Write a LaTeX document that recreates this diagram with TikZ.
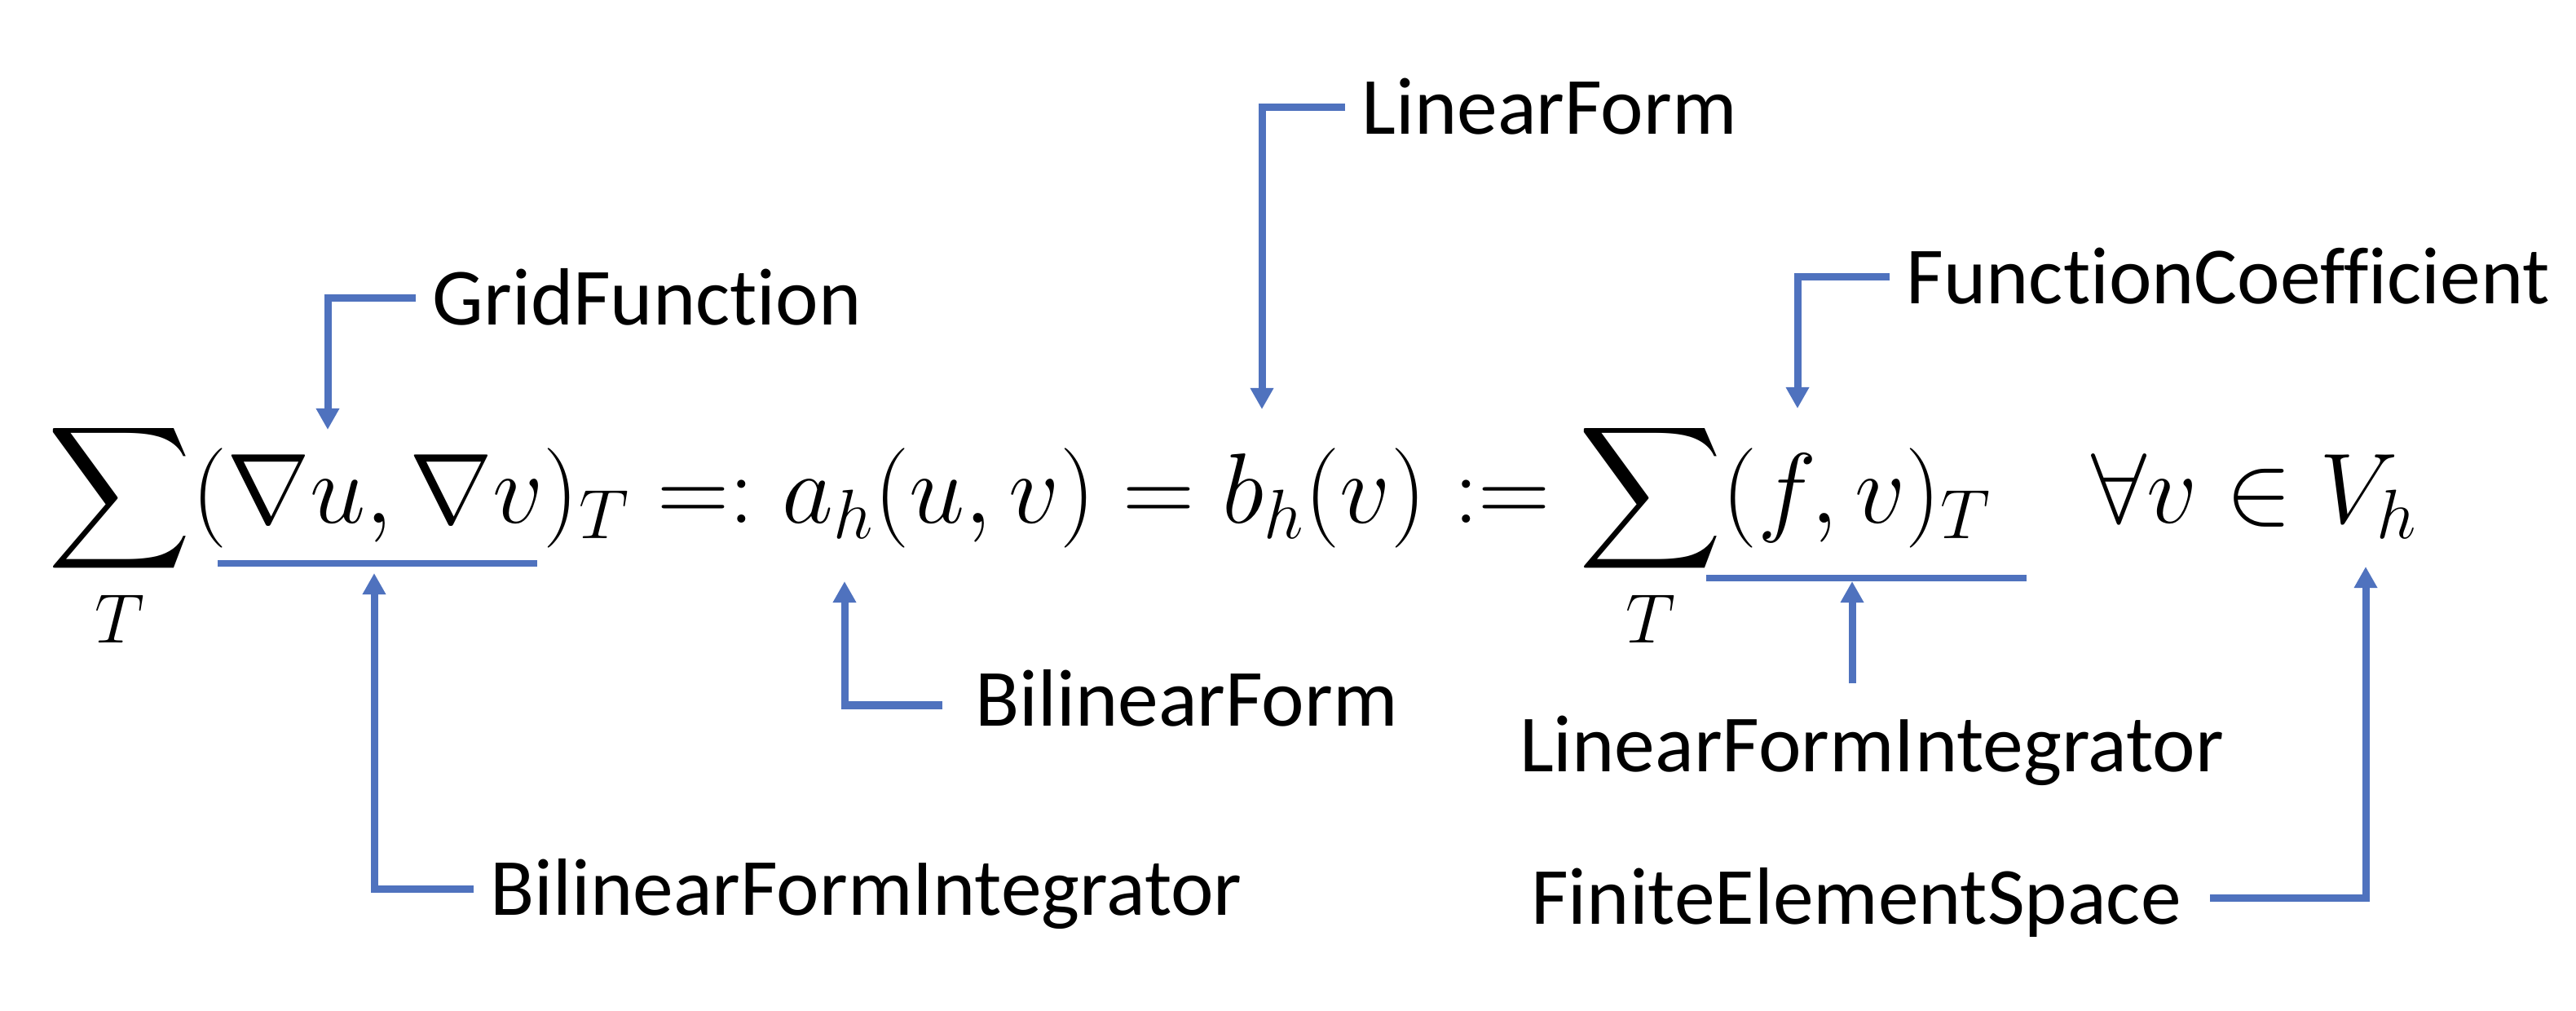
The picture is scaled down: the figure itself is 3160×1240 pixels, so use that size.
\RequirePackage{fix-cm}
\documentclass[tikz,border=0pt]{standalone}
\usepackage{amsmath}
\DeclareFontShape{OMX}{cmex}{m}{n}{<->cmex10}{}
\usepackage[no-math]{fontspec}
\setmainfont{Carlito}[Ligatures=NoCommon]
\usetikzlibrary{arrows.meta}
\definecolor{linkblue}{RGB}{79,114,190}
\begin{document}
\begin{tikzpicture}
[x=0.01cm, y=-0.01cm,
 conn/.style={draw=linkblue, line width=0.09cm, -{Triangle[length=0.26cm,width=0.27cm]}},
 bar/.style={draw=linkblue, line width=0.08cm},
 classname/.style={font=\fontsize{28.3}{34}\selectfont, text height=0.64cm, text depth=0pt, inner xsep=0.2cm, inner ysep=0.2cm},
 eqn/.style={font=\fontsize{34.8}{42}\selectfont, inner sep=0pt, anchor=base west}]
\useasboundingbox (0,0) rectangle (3160,1240);
\node [eqn] (eq) at (58,642)
  {$\displaystyle\sum_T(\nabla u,\nabla v)_T =: a_h(u,v) = b_h(v) := \sum_T (f,v)_T \quad \forall v\in V_h$};
\node [classname, anchor=west] (gf) at (510,366) {GridFunction};
\node [classname, anchor=west] (lf) at (1650,132) {LinearForm};
\node [classname, anchor=west] (fc) at (2318,340) {FunctionCoefficient};
\node [classname, anchor=west] (bf) at (1176,858) {BilinearForm};
\node [classname, anchor=west] (bfi) at (581,1090) {BilinearFormIntegrator};
\node [classname] (lfi) at (2296,914) {LinearFormIntegrator};
\node [classname] (fes) at (2277,1101) {FiniteElementSpace};
\coordinate (gfTip) at (402,527);
\coordinate (lfTip) at (1548,502);
\coordinate (fcTip) at (2205,501);
\coordinate (bfTip) at (1036,713);
\coordinate (bfiTip) at (459,703);
\coordinate (lfiTip) at (2272,713);
\coordinate (fesTip) at (2902,695);
\draw [conn] (gf.west) -| (gfTip);
\draw [conn] (lf.west) -| (lfTip);
\draw [conn] (fc.west) -| (fcTip);
\draw [conn] ([shift={(-20,7)}]bf.west) -| (bfTip);
\draw [conn] (bfi.west) -| (bfiTip);
\draw [conn, shorten <=0.23cm] (lfi.north -| lfiTip) -- (lfiTip);
\draw [conn] ([xshift=0.15cm]fes.east) -| (fesTip);
\draw [bar] (267,691) -- (659,691);
\draw [bar] (2093,709) -- (2486,709);
\end{tikzpicture}
\end{document}
